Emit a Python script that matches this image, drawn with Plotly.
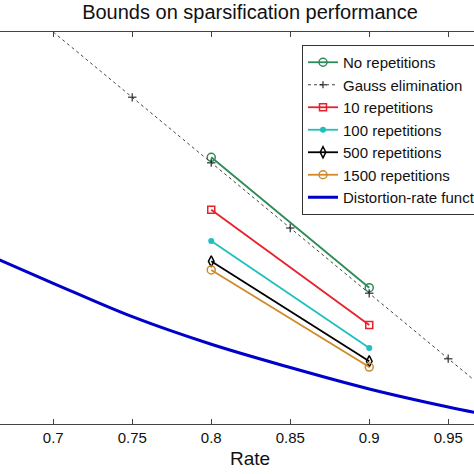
import plotly.graph_objects as go

# ---- data ----
rate_gauss = [0.70, 0.75, 0.80, 0.85, 0.90, 0.95, 1.00]
dist_gauss = [0.300, 0.250, 0.200, 0.150, 0.100, 0.050, 0.000]

rate_rep = [0.8, 0.9]
dist_norep = [0.2041, 0.1043]
dist_10 = [0.1640, 0.0758]
dist_100 = [0.1400, 0.0582]
dist_500 = [0.1245, 0.0480]
dist_1500 = [0.1179, 0.0436]

rate_dr = [0.65, 0.70, 0.75, 0.80, 0.85, 0.90, 0.95, 1.00]
dist_dr = [0.1340, 0.1077, 0.0821, 0.0610, 0.0432, 0.0268, 0.0130, 0.0010]

font = "Liberation Sans, Arial, Helvetica, sans-serif"

fig = go.Figure()
fig.add_trace(go.Scatter(x=rate_rep, y=dist_norep, name="No repetitions", mode="lines+markers",
                         line=dict(color="#2e8b57", width=1.8),
                         marker=dict(symbol="circle-open", size=8, line=dict(width=1.5, color="#2e8b57"))))
fig.add_trace(go.Scatter(x=rate_gauss, y=dist_gauss, name="Gauss elimination", mode="lines+markers",
                         line=dict(color="#444444", width=1, dash="dot"),
                         marker=dict(symbol="cross-thin", size=[0] + [6] * (len(rate_gauss) - 1),
                                     line=dict(width=1.5, color="#111111"))))
fig.add_trace(go.Scatter(x=rate_rep, y=dist_10, name="10 repetitions", mode="lines+markers",
                         line=dict(color="#e8202a", width=1.8),
                         marker=dict(symbol="square-open", size=7, line=dict(width=1.5, color="#e8202a"))))
fig.add_trace(go.Scatter(x=rate_rep, y=dist_100, name="100 repetitions", mode="lines+markers",
                         line=dict(color="#1fbfbf", width=1.8),
                         marker=dict(symbol="circle", size=6, color="#1fbfbf")))
fig.add_trace(go.Scatter(x=rate_rep, y=dist_500, name="500 repetitions", mode="lines+markers",
                         line=dict(color="#000000", width=1.8),
                         marker=dict(symbol="diamond-tall-open", size=8, line=dict(width=1.5, color="#000000"))))
fig.add_trace(go.Scatter(x=rate_rep, y=dist_1500, name="1500 repetitions", mode="lines+markers",
                         line=dict(color="#d08a2a", width=1.8),
                         marker=dict(symbol="circle-open", size=8, line=dict(width=1.5, color="#d08a2a"))))
fig.add_trace(go.Scatter(x=rate_dr, y=dist_dr, name="Distortion-rate function", mode="lines",
                         line=dict(color="#0000c8", width=3, shape="spline", smoothing=1.0)))

fig.update_layout(
    width=474, height=474,
    margin=dict(l=0, r=0, t=32, b=50, autoexpand=False),
    paper_bgcolor="white", plot_bgcolor="white",
    font=dict(family=font, color="#111111"),
    title=dict(text="Bounds on sparsification performance", x=250/474, xanchor="center",
               y=(474-12)/474, yanchor="middle", yref="container",
               font=dict(size=20, family=font, color="#111111")),
    xaxis=dict(range=[0.6663, 0.9663], tickvals=[0.7, 0.75, 0.8, 0.85, 0.9, 0.95],
               ticktext=["0.7", "0.75", "0.8", "0.85", "0.9", "0.95"],
               ticks="inside", ticklen=5, tickcolor="#444", showline=True, linecolor="#444",
               linewidth=1, mirror="ticks", showgrid=False, zeroline=False,
               tickfont=dict(size=15, family=font, color="#111111")),
    yaxis=dict(range=[0, 0.3], showticklabels=False, showgrid=False, zeroline=False,
               showline=False, ticks=""),
    legend=dict(x=302/474, xanchor="left", y=1 - (45-32)/392, yanchor="top",
                bgcolor="white", bordercolor="#333", borderwidth=1,
                font=dict(size=15, family=font, color="#111111"),
                tracegroupgap=0, itemwidth=30),
    annotations=[dict(text="Rate", x=250/474, y=(424-458)/392, xref="paper", yref="paper",
                      xanchor="center", yanchor="middle", showarrow=False,
                      font=dict(size=19, family=font, color="#111111"))],
    showlegend=True,
)

fig.write_html("out.html")
